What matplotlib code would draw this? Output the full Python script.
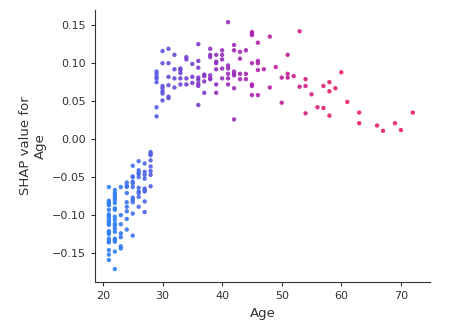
import numpy as np
import matplotlib.pyplot as plt
from matplotlib.colors import LinearSegmentedColormap

# ages and shap values, read column by column
age_21 = [-0.063, -0.081, -0.083, -0.085, -0.087, -0.093, -0.099, -0.101, -0.103, -0.107, -0.109,
          -0.111, -0.113, -0.121, -0.123, -0.125, -0.131, -0.134, -0.136, -0.146, -0.152, -0.159]
age_22 = [-0.067, -0.071, -0.074, -0.077, -0.080, -0.084, -0.091, -0.093, -0.102, -0.106, -0.111,
          -0.114, -0.118, -0.122, -0.131, -0.133, -0.135, -0.148, -0.171]
age_23 = [-0.063, -0.100, -0.112, -0.124, -0.129, -0.141, -0.144]
age_24 = [-0.057, -0.061, -0.063, -0.071, -0.083, -0.089, -0.095, -0.105, -0.119]
age_25 = [-0.035, -0.049, -0.050, -0.056, -0.058, -0.063, -0.077, -0.080, -0.083, -0.098, -0.127]
age_26 = [-0.029, -0.041, -0.044, -0.046, -0.050, -0.064, -0.069, -0.071, -0.076, -0.089]
age_27 = [-0.032, -0.043, -0.047, -0.052, -0.065, -0.067, -0.069, -0.082, -0.096]
age_28 = [-0.017, -0.019, -0.021, -0.028, -0.036, -0.042, -0.047, -0.062]
age_29 = [0.089, 0.086, 0.082, 0.080, 0.075, 0.042, 0.030]
age_30 = [0.116, 0.100, 0.070, 0.067, 0.063, 0.060, 0.051]
age_31 = [0.119, 0.100, 0.082, 0.071, 0.056, 0.054]
age_32 = [0.111, 0.092, 0.080, 0.068]
age_33 = [0.093, 0.091, 0.087, 0.080, 0.072]
age_34 = [0.108, 0.105, 0.080, 0.072]
age_35 = [0.099, 0.082, 0.074]
age_36 = [0.125, 0.103, 0.094, 0.081, 0.078, 0.073, 0.070, 0.045]
age_37 = [0.085, 0.083, 0.076, 0.061]
age_38 = [0.119, 0.111, 0.108, 0.084, 0.080, 0.079]
age_39 = [0.111, 0.102, 0.100, 0.092, 0.072, 0.061]
age_40 = [0.117, 0.111, 0.105, 0.093, 0.080]
age_41 = [0.154, 0.097, 0.093, 0.086, 0.080, 0.072]
age_42 = [0.124, 0.117, 0.089, 0.086, 0.084, 0.067, 0.026]
age_43 = [0.115, 0.106, 0.086, 0.079]
age_44 = [0.117, 0.086, 0.079]
age_45 = [0.141, 0.139, 0.137, 0.100, 0.072, 0.070, 0.058]
age_46 = [0.127, 0.103, 0.100, 0.091, 0.058]
rest_age = [47, 48, 48, 49, 50, 50, 51, 51, 51, 52, 53, 53, 54, 54, 54, 55, 56, 57, 57,
            58, 58, 58, 59, 60, 61, 63, 63, 66, 67, 69, 70, 72]
rest_shap = [0.092, 0.135, 0.068, 0.095, 0.081, 0.048, 0.111, 0.086, 0.081, 0.083, 0.142, 0.069,
             0.079, 0.070, 0.034, 0.059, 0.042, 0.070, 0.041, 0.075, 0.063, 0.031, 0.067, 0.088,
             0.049, 0.035, 0.021, 0.018, 0.011, 0.021, 0.012, 0.035]

columns = {21: age_21, 22: age_22, 23: age_23, 24: age_24, 25: age_25, 26: age_26, 27: age_27,
           28: age_28, 29: age_29, 30: age_30, 31: age_31, 32: age_32, 33: age_33, 34: age_34,
           35: age_35, 36: age_36, 37: age_37, 38: age_38, 39: age_39, 40: age_40, 41: age_41,
           42: age_42, 43: age_43, 44: age_44, 45: age_45, 46: age_46}

ages = []
shap = []
for a, vals in columns.items():
    ages += [a] * len(vals)
    shap += vals
ages = np.array(ages + rest_age, dtype=float)
shap = np.array(shap + rest_shap)

red_blue = LinearSegmentedColormap.from_list("red_blue", ["#2f7ff5", "#7a3ad0", "#b51fa6", "#ec1f62"])

fig = plt.figure(figsize=(4.62, 3.23), dpi=100)
ax = fig.add_axes([0.206, 0.127, 0.725, 0.842])
ax.scatter(ages, shap, c=ages, cmap=red_blue, vmin=22, vmax=60, s=10, linewidths=0, alpha=0.9)

ax.set_xlim(18.7, 74.9)
ax.set_ylim(-0.188, 0.170)
ax.set_xticks([20, 30, 40, 50, 60, 70])
ax.set_yticks([-0.15, -0.10, -0.05, 0.00, 0.05, 0.10, 0.15])
ax.set_yticklabels(["\u22120.15", "\u22120.10", "\u22120.05", "0.00", "0.05", "0.10", "0.15"])
for s in ["top", "right"]:
    ax.spines[s].set_visible(False)
for s in ["left", "bottom"]:
    ax.spines[s].set_color("#333333")
ax.tick_params(labelsize=8, colors="#333333", length=3)
ax.set_xlabel("Age", fontsize=9.5, color="#333333")
ax.set_ylabel("SHAP value for\nAge", fontsize=9.5, color="#333333")

fig.savefig("out.png", dpi=100)
